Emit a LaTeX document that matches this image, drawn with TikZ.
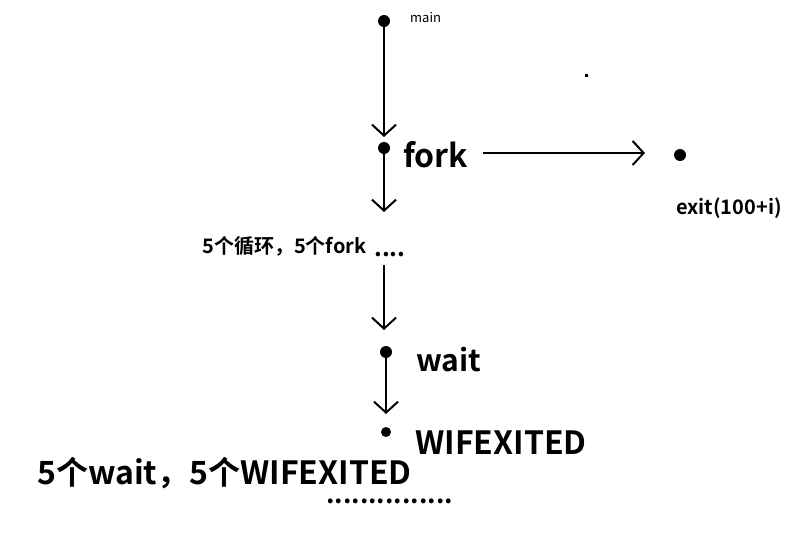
\documentclass[tikz,border=0pt]{standalone}
\usepackage{fontspec}
\setmainfont{Noto Sans CJK SC}[BoldFont={Noto Sans CJK SC Bold}]
\usetikzlibrary{arrows.meta}
\begin{document}
\begin{tikzpicture}[x=1pt,y=-1pt,
  dotn/.style={circle,fill=black,inner sep=0pt,minimum size=12pt},
  arr/.style={line width=2pt,-{Straight Barb[length=11pt,width=24pt,line width=2pt]}},
  lbl/.style={anchor=west,inner sep=0pt,font=\bfseries}]
\useasboundingbox (0,0) rectangle (795,544);
\node[dotn] (m) at (384,21) {};
\node[anchor=west,inner sep=0pt,font=\fontsize{13}{14}\selectfont] (mt) at (410,18) {main};
\node[dotn] (f) at (384,148) {};
\node[lbl,font=\bfseries\fontsize{32}{34}\selectfont] (ft) at (403,155) {fork};
\node[dotn] (e) at (680,155) {};
\node[lbl,font=\bfseries\fontsize{20}{22}\selectfont] (et) at (676,208) {exit(100+i)};
\coordinate (c1) at (384,212);
\node[lbl,font=\bfseries\fontsize{20}{22}\selectfont] (lt) at (202,246) {5个循环，5个fork};
\node[lbl,font=\bfseries\fontsize{24}{26}\selectfont] (ld) at (374,255) {....};
\node[dotn] (w) at (386,352) {};
\node[lbl,font=\bfseries\fontsize{30}{32}\selectfont] (wt) at (416,360) {wait};
\node[dotn,minimum size=10pt] (x) at (386,432) {};
\node[lbl,font=\bfseries\fontsize{32}{34}\selectfont] (xt) at (415,443) {WIFEXITED};
\node[lbl,font=\bfseries\fontsize{32}{34}\selectfont] (bt) at (37,473) {5个wait，5个WIFEXITED};
\node[lbl,font=\bfseries\fontsize{26}{28}\selectfont] (bd) at (326,501) {...............};
\node[fill=black,inner sep=0pt,minimum size=3pt] (sd) at (586,75) {};
\coordinate (c2) at (384,265);
\coordinate (fs) at (483,153);
\draw[arr] (m) -- (384,137);
\draw[arr] (fs) -- (645,153);
\draw[arr] (f) -- (c1);
\draw[arr] (c2) -- (384,330);
\draw[arr] (w) -- (386,414);
\end{tikzpicture}
\end{document}
